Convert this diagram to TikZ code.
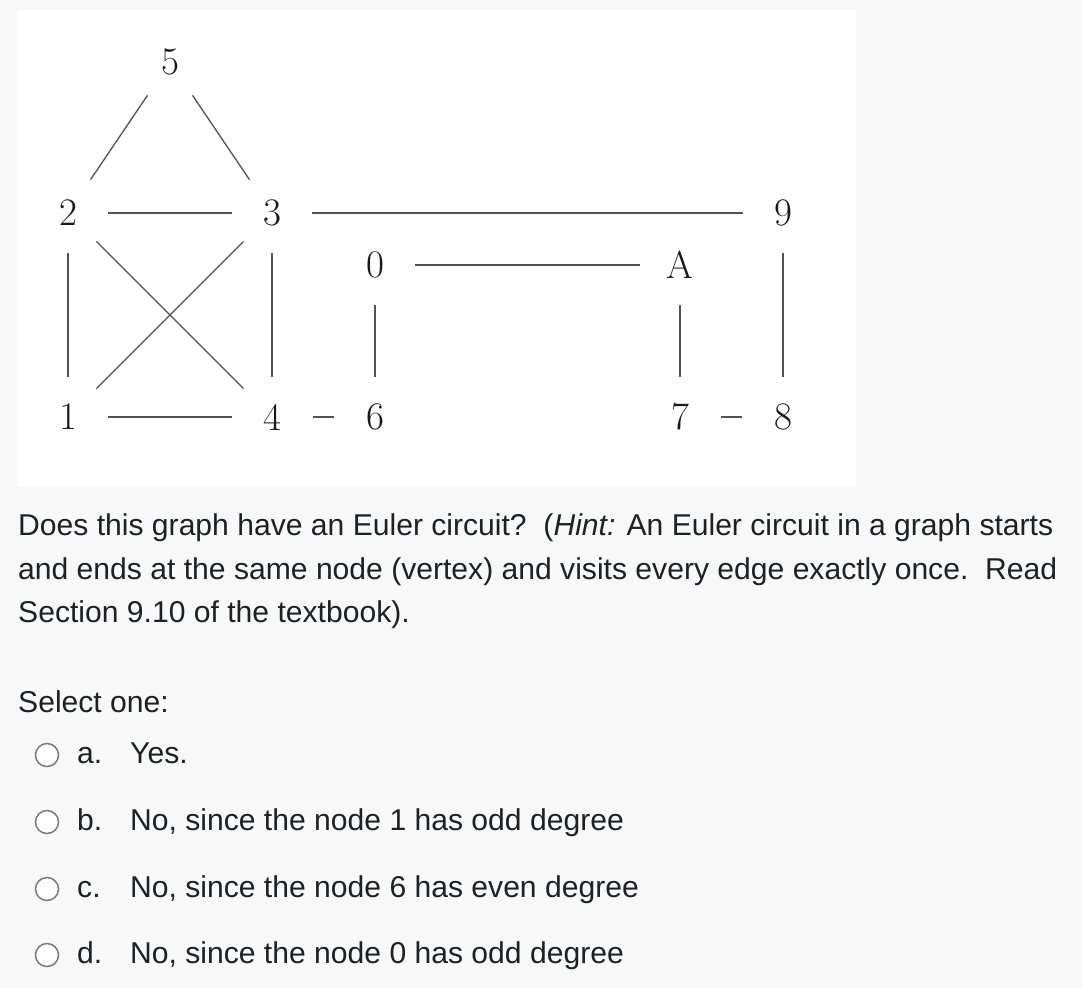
\documentclass[tikz,border=0pt]{standalone}
\usepackage{fontspec}
\newfontfamily\uifont{Liberation Sans}
\definecolor{pagebg}{HTML}{F8F8F8}
\definecolor{uitext}{HTML}{1D2125}
\definecolor{radiogray}{HTML}{7A7A7A}
\begin{document}
\begin{tikzpicture}[x=1pt,y=-1pt,
  vtx/.style={circle, minimum size=80pt, inner sep=0pt, text=black!90,
    font=\fontsize{39}{41}\selectfont},
  gedge/.style={draw=black!68, line width=1.3pt},
  txt/.style={anchor=base west, inner sep=0pt, text=uitext,
    font=\uifont\fontsize{30.1}{34}\selectfont},
  radio/.style={circle, draw=radiogray, line width=1.5pt, fill=white,
    minimum size=23pt, inner sep=0pt}]
\fill[pagebg] (0,0) rectangle (1082,988);
\useasboundingbox (0,0) rectangle (1082,988);
\fill[white] (17,10) rectangle (856,487);
% vertices
\node[vtx] (v5) at (170,62) {5};
\node[vtx] (v2) at (68,213) {2};
\node[vtx] (v3) at (272,213) {3};
\node[vtx] (v9) at (783,213) {9};
\node[vtx] (v0) at (375,265) {0};
\node[vtx] (vA) at (680,265) {A};
\node[vtx] (v1) at (68,417) {1};
\node[vtx] (v4) at (272,417) {4};
\node[vtx] (v6) at (375,417) {6};
\node[vtx] (v7) at (680,417) {7};
\node[vtx] (v8) at (783,417) {8};
% edges
\draw[gedge] (v5) -- (v2);
\draw[gedge] (v5) -- (v3);
\draw[gedge] (v2) -- (v3);
\draw[gedge] (v3) -- (v9);
\draw[gedge] (v0) -- (vA);
\draw[gedge] (v2) -- (v1);
\draw[gedge] (v2) -- (v4);
\draw[gedge] (v3) -- (v1);
\draw[gedge] (v3) -- (v4);
\draw[gedge] (v0) -- (v6);
\draw[gedge] (vA) -- (v7);
\draw[gedge] (v9) -- (v8);
\draw[gedge] (v1) -- (v4);
\draw[gedge, shorten <=1pt, shorten >=1pt] (v4) -- (v6);
\draw[gedge, shorten <=1pt, shorten >=1pt] (v7) -- (v8);
% question text
\node[txt] (q1) at (18,535) {Does this graph have an Euler circuit?\ \ (\textit{Hint:} An Euler circuit in a graph starts};
\node[txt] (q2) at (18,579) {and ends at the same node (vertex) and visits every edge exactly once.\ \ Read};
\node[txt] (q3) at (18,622) {Section 9.10 of the textbook).};
\node[txt] (sel) at (18,712) {Select one:};
% options
\node[radio] (ra) at (47,755) {};
\node[txt] (la) at (77,763) {a.};
\node[txt] (ta) at (130,763) {Yes.};
\node[radio] (rb) at (47,822) {};
\node[txt] (lb) at (77,830) {b.};
\node[txt] (tb) at (130,830) {No, since the node 1 has odd degree};
\node[radio] (rc) at (47,889) {};
\node[txt] (lc) at (77,897) {c.};
\node[txt] (tc) at (130,897) {No, since the node 6 has even degree};
\node[radio] (rd) at (47,955) {};
\node[txt] (ld) at (77,963) {d.};
\node[txt] (td) at (130,963) {No, since the node 0 has odd degree};
\end{tikzpicture}
\end{document}
